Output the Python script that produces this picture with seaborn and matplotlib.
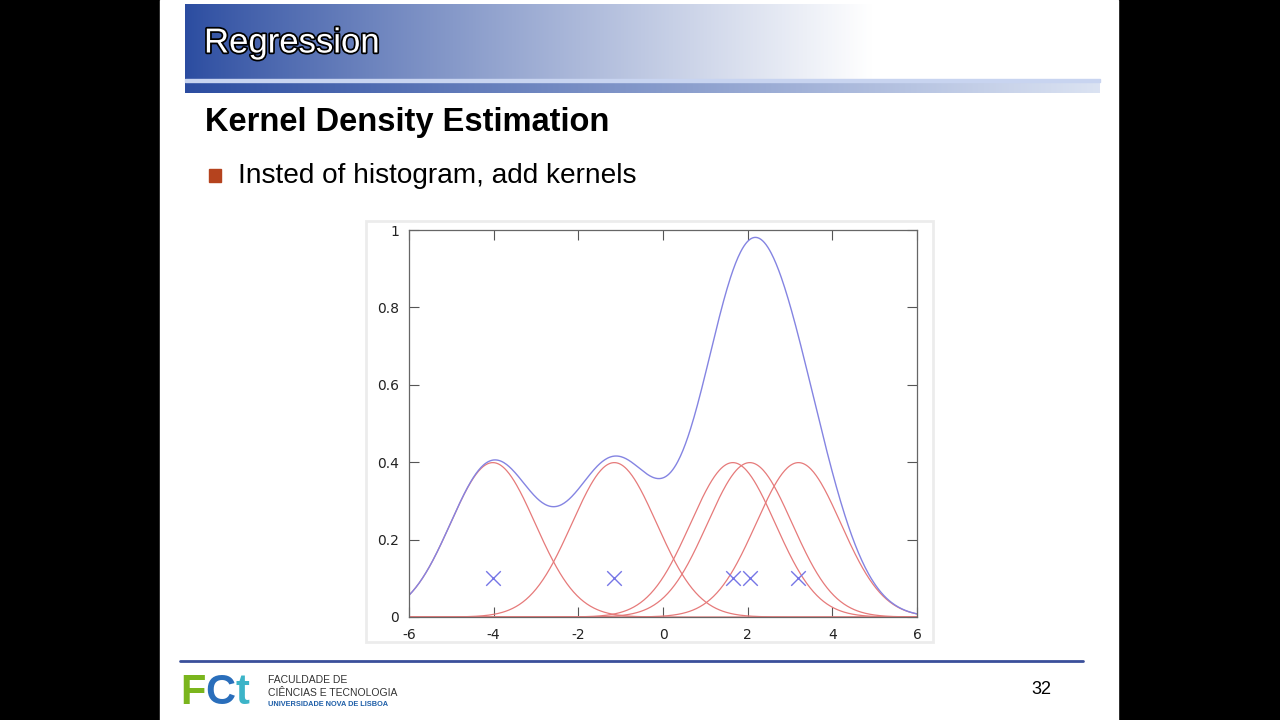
import numpy as np
import pandas as pd
import matplotlib.pyplot as plt
import matplotlib.patheffects as pe
from matplotlib.patches import Rectangle
import seaborn as sns

# data
points = [-4.02, -1.15, 1.65, 2.05, 3.2]
marker_y = [0.1, 0.1, 0.1, 0.1, 0.1]
bandwidth = 1.0
x_ticks = [-6, -4, -2, 0, 2, 4, 6]
y_ticks = [0, 0.2, 0.4, 0.6, 0.8, 1]
y_tick_labels = ["0", "0.2", "0.4", "0.6", "0.8", "1"]

xs = np.linspace(-6, 6, 600)
kernels = pd.DataFrame({"x": np.tile(xs, len(points)),
                        "point": np.repeat(range(len(points)), len(xs))})
kernels["y"] = np.exp(-0.5 * ((kernels["x"] - np.repeat(points, len(xs))) / bandwidth) ** 2) / np.sqrt(2 * np.pi)
total = kernels.groupby("x")["y"].sum().reset_index()
marks = pd.DataFrame({"x": points, "y": marker_y})

sns.set_theme(style="white")
plt.rcParams["font.family"] = ["Liberation Sans", "DejaVu Sans"]

W, H = 1280, 720
fig = plt.figure(figsize=(12.8, 7.2), dpi=100)
fig.patch.set_facecolor("black")

# slide background layer in pixel coordinates
bg = fig.add_axes([0, 0, 1, 1])
bg.set_xlim(0, W)
bg.set_ylim(H, 0)
bg.axis("off")
bg.add_patch(Rectangle((160, 0), 958, 720, color="white", zorder=0))

# header gradient
grad = np.linspace(0, 1, 512)
def ramp(c0, c1, t):
    c0 = np.array(c0); c1 = np.array(c1)
    return c0[None, :] * (1 - t[:, None]) + c1[None, :] * t[:, None]
top_t = np.clip(grad / 0.75, 0, 1) ** 0.9
top = ramp([0.17, 0.30, 0.63], [1, 1, 1], top_t)[None, :, :]
bg.imshow(top, extent=[185, 1100, 79, 4], aspect="auto", zorder=1)
bot = ramp([0.17, 0.30, 0.63], [0.86, 0.89, 0.95], grad)[None, :, :]
bg.imshow(bot, extent=[185, 1100, 93, 82], aspect="auto", zorder=1)
bg.add_patch(Rectangle((185, 79), 915, 3, color="#c8d4f0", zorder=2))
bg.set_xlim(0, W)
bg.set_ylim(H, 0)

bg.text(204, 43, "Regression", color="white", fontsize=25, va="center", ha="left", zorder=3,
        path_effects=[pe.withStroke(linewidth=2.5, foreground="black")])
bg.text(205, 122, "Kernel Density Estimation", color="black", fontsize=23.5, fontweight="bold",
        va="center", ha="left", zorder=3)
bg.add_patch(Rectangle((209, 169), 12, 13, color="#b5431e", zorder=3))
bg.text(238, 176, "Insted of histogram, add kernels", color="black", fontsize=20.2,
        va="center", ha="left", zorder=3)

# plot frame with soft shadow
bg.add_patch(Rectangle((366, 221), 567, 421, facecolor="white", edgecolor="#ececec", lw=2, zorder=2))

# footer
bg.plot([180, 1083], [661, 661], color="#3a4f9a", lw=2, zorder=3)
bg.text(180, 693, "F", color="#7ab51d", fontsize=30, fontweight="bold", va="center", ha="left", zorder=3)
bg.text(205, 693, "C", color="#2a6ebb", fontsize=30, fontweight="bold", va="center", ha="left", zorder=3)
bg.text(236, 693, "t", color="#3cb4c8", fontsize=30, fontweight="bold", va="center", ha="left", zorder=3)
bg.text(268, 680, "FACULDADE DE", color="#333333", fontsize=7.5, va="center", ha="left", zorder=3)
bg.text(268, 693, "CIÊNCIAS E TECNOLOGIA", color="#333333", fontsize=7.5, va="center", ha="left", zorder=3)
bg.text(268, 705, "UNIVERSIDADE NOVA DE LISBOA", color="#1f5fa8", fontsize=5.3, fontweight="bold",
        va="center", ha="left", zorder=3)
bg.text(1041, 689, "32", color="black", fontsize=13, va="center", ha="center", zorder=3)

# the chart itself
ax = fig.add_axes([409 / W, 1 - 617 / H, (917 - 409) / W, (617 - 230) / H])
ax.set_facecolor("white")
sns.lineplot(data=kernels, x="x", y="y", units="point", estimator=None, color="#e67a7a",
             lw=0.9, ax=ax, legend=False)
sns.lineplot(data=total, x="x", y="y", color="#8484e2", lw=1.0, ax=ax, legend=False)
sns.scatterplot(data=marks, x="x", y="y", marker="x", s=110, color="#7575e6", linewidth=1.0, ax=ax,
                legend=False, zorder=4)
ax.set_xlim(-6, 6)
ax.set_ylim(0, 1)
ax.set_xticks(x_ticks)
ax.set_xticklabels([str(t) for t in x_ticks])
ax.set_yticks(y_ticks)
ax.set_yticklabels(y_tick_labels)
ax.set_xlabel("")
ax.set_ylabel("")
ax.tick_params(direction="in", length=7, width=0.8, color="#555555",
               top=True, right=True, bottom=True, left=True,
               labelsize=10, labelcolor="#222222")
ax.tick_params(axis="x", pad=8)
ax.tick_params(axis="y", pad=7)
for lab in ax.get_xticklabels() + ax.get_yticklabels():
    lab.set_fontfamily("DejaVu Sans")
for s in ax.spines.values():
    s.set_color("#666666")
    s.set_linewidth(0.9)

fig.savefig("out.png", dpi=100, facecolor="black")
